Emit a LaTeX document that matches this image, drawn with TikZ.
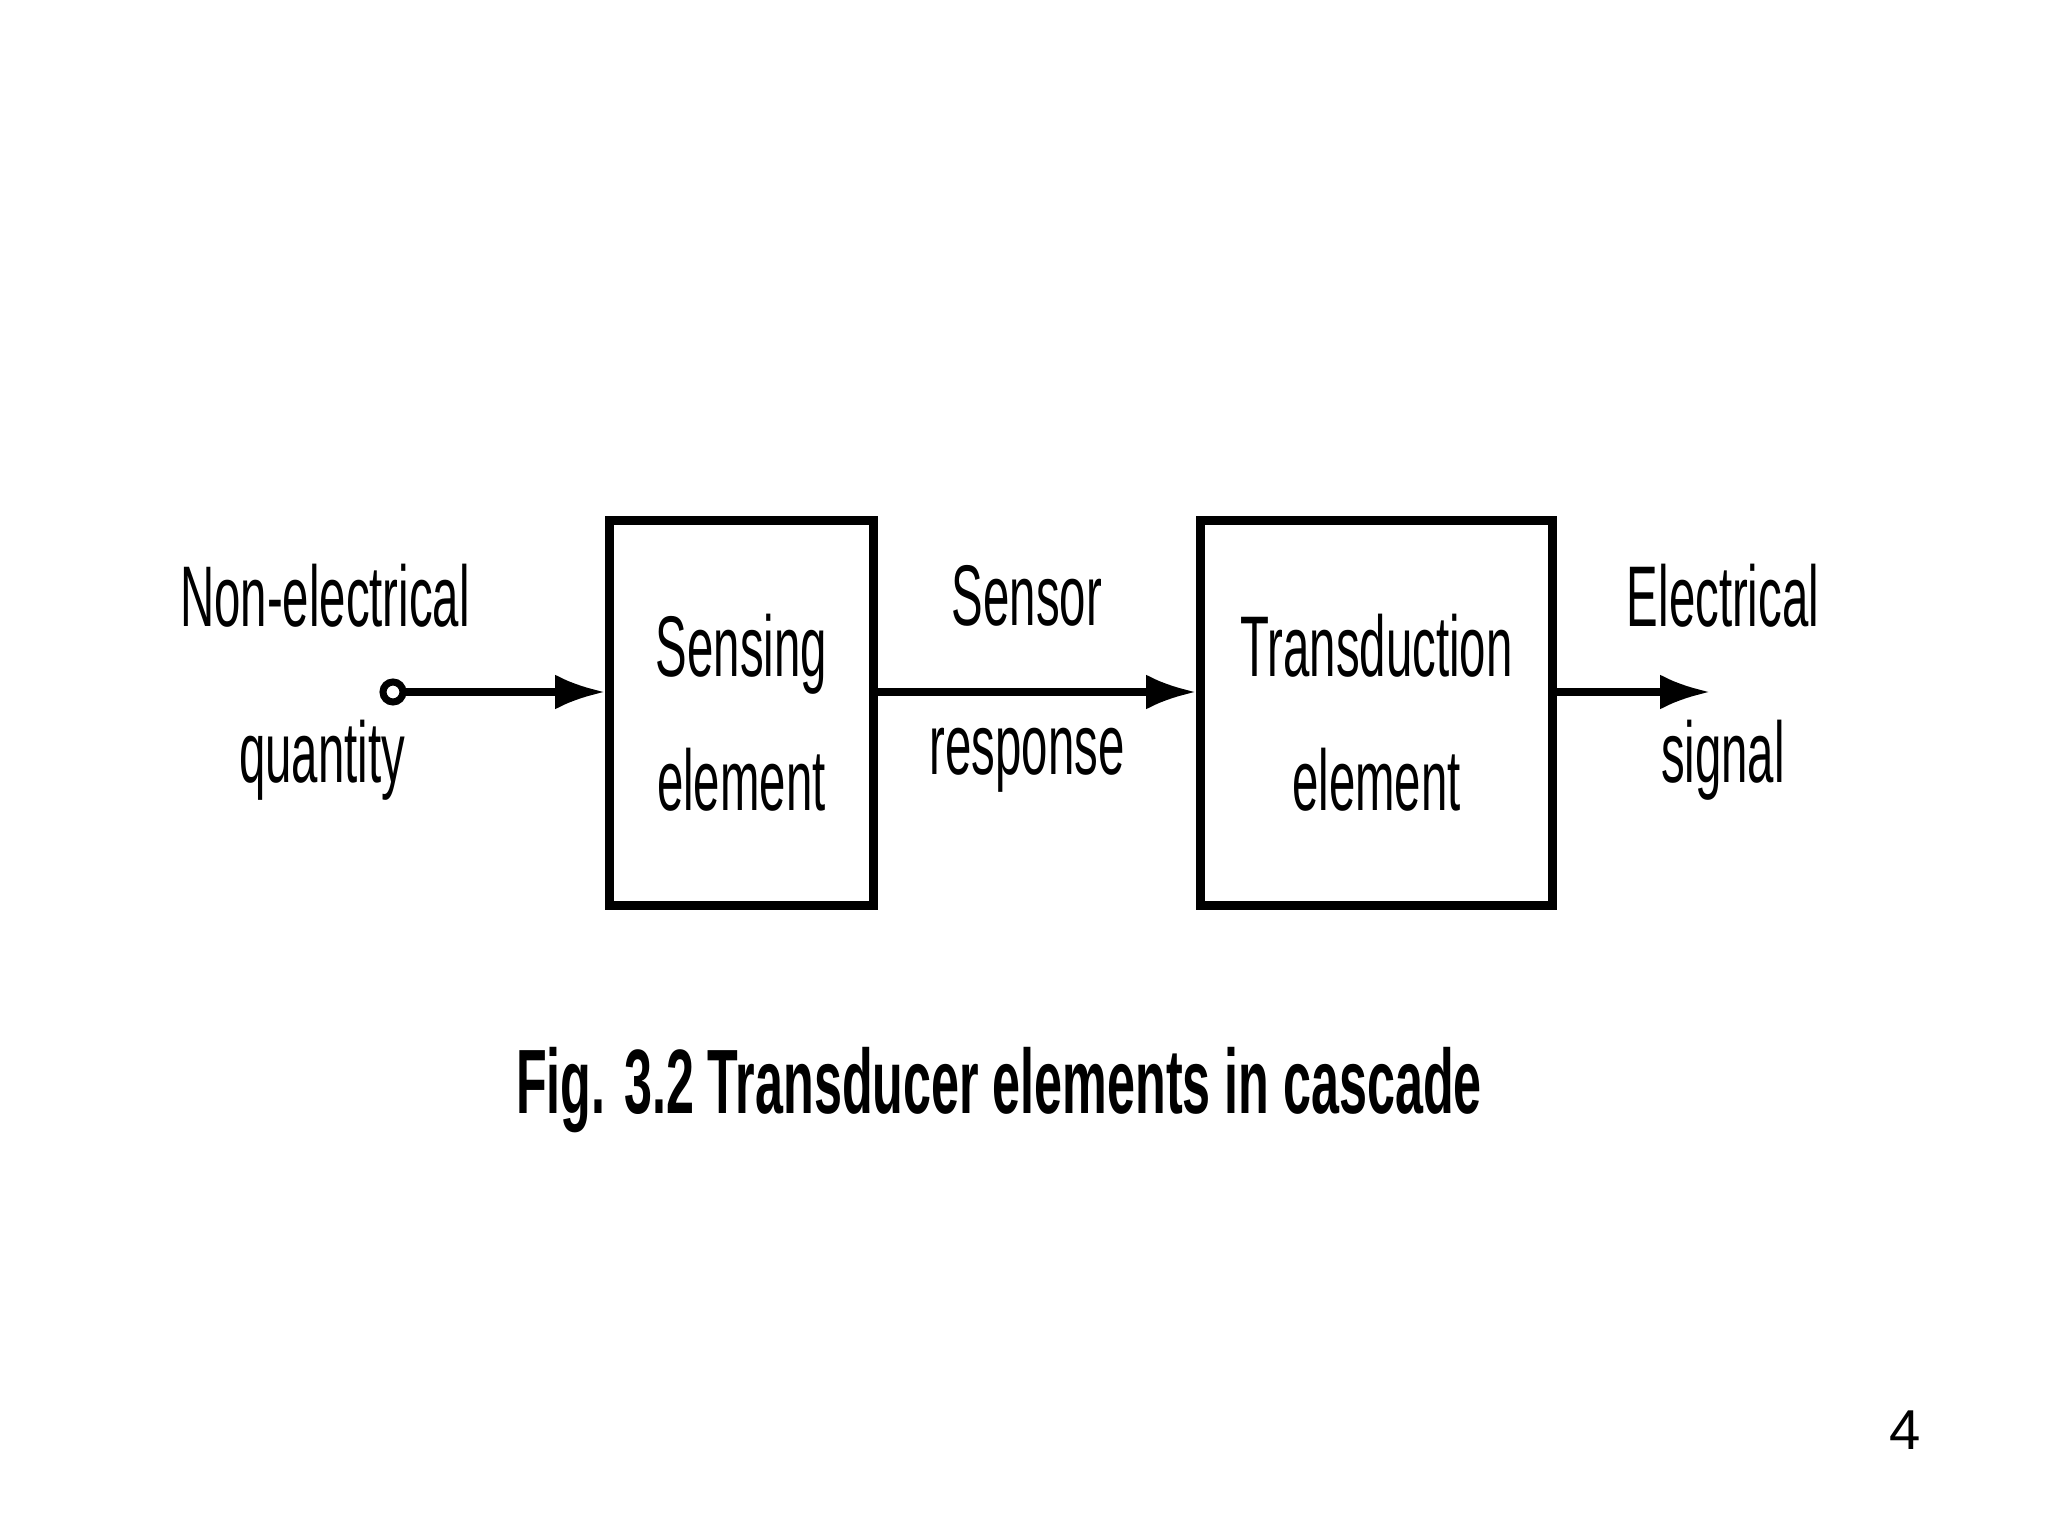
\documentclass[tikz,border=0pt]{standalone}
\usepackage{fontspec}
\setmainfont{Liberation Sans}
\newfontfamily\narrowsf[FakeStretch=0.55]{Liberation Sans}
\usetikzlibrary{arrows.meta}
\tikzset{
  block/.style={draw, line width=2.5pt, minimum width=2.64cm, minimum height=3.85cm, inner sep=0pt},
  lbl/.style={font=\narrowsf\fontsize{24.5}{28}\selectfont, align=center, inner sep=0pt},
  sig/.style={line width=2pt, -{Latex[length=5mm,width=3.5mm]}}
}
\begin{document}
\begin{tikzpicture}
  \useasboundingbox (0,0) rectangle (20.48,-15.36);
  \node[block, anchor=north west] (S) at (6.05,-5.16) {};
  \node[block, anchor=north west, minimum width=3.52cm] (T) at (11.96,-5.16) {};
  \node[lbl] at (S.center) {Sensing\\[10pt]element};
  \node[lbl] at (T.center) {Transduction\\[10pt]element};

  \coordinate (in) at (3.93,-6.92);
  \coordinate (out) at (17.10,-6.92);
  \draw[line width=2pt] (in) circle (0.1);
  \draw[sig] ([xshift=0.1cm]in) -- (S.west |- in);
  \draw[sig] (S.east |- in) -- (T.west |- in);
  \draw[sig] (T.east |- in) -- (out);

  \node[lbl] (ne) at (3.25,-5.96) {Non-electrical};
  \node[lbl] (q) at (3.22,-7.60) {quantity};
  \node[lbl] (sr) at (10.27,-5.96) {Sensor};
  \node[lbl] (rp) at (10.27,-7.60) {response};
  \node[lbl] (el) at (17.23,-5.96) {Electrical};
  \node[lbl] (sg) at (17.23,-7.60) {signal};

  \node[font=\narrowsf\bfseries\fontsize{26}{30}\selectfont, inner sep=0pt] (cap) at (9.99,-10.90) {Fig. 3.2 Transducer elements in cascade};
  \node[font=\fontsize{16}{20}\selectfont, inner sep=0pt] (pg) at (19.05,-14.30) {4};
\end{tikzpicture}
\end{document}
